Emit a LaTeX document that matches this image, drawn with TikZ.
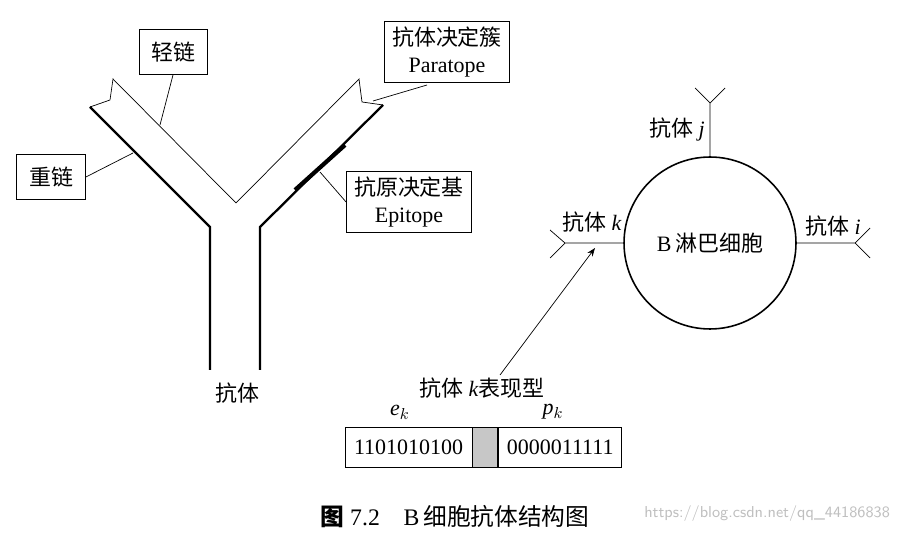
\documentclass[tikz,border=0pt]{standalone}
\usepackage{fontspec}
\setmainfont{Liberation Serif}
\newfontfamily\cjk{Noto Sans CJK SC}
\usetikzlibrary{arrows.meta}
\tikzset{
  >=Stealth,
  every node/.style={font=\fontsize{12.5}{15}\selectfont},
  lbl/.style={draw, line width=0.5pt, align=center, inner sep=3pt},
  thin/.style={line width=0.4pt},
  thick/.style={line width=1.3pt},
  bit/.style={draw, line width=0.5pt, minimum height=0.8cm, inner sep=0pt}
}
\begin{document}
\begin{tikzpicture}[x=0.02cm, y=-0.02cm]
  \useasboundingbox (0,0) rectangle (899,533);

  % Y-shaped antibody
  \coordinate (la) at (90,107);
  \coordinate (ln) at (110,100);
  \coordinate (lt) at (113,79);
  \coordinate (vv) at (236,203);
  \coordinate (rt) at (359,79);
  \coordinate (rn) at (362,102);
  \coordinate (ra) at (383,105);
  \coordinate (sl) at (210,227);
  \coordinate (sr) at (260,227);
  \draw[thin] (ln) -- (la) (ln) -- (lt) -- (vv) -- (rt) -- (rn) -- (ra);
  \draw[thick] (la) -- (sl) -- (210,370);
  \draw[thick] (ra) -- (sr) -- (260,370);
  \draw[line width=2.4pt] (295,190) -- (345,145);
  \node (ab) at (237,393) {\cjk 抗体};

  % labels of the Y
  \node[lbl, minimum width=1.36cm, minimum height=0.9cm] (light) at (173,52) {\cjk 轻链};
  \node[lbl, minimum width=1.38cm, minimum height=0.9cm] (heavy) at (51,177) {\cjk 重链};
  \node[lbl, minimum width=2.5cm] (para) at (447,52) {{\cjk 抗体决定簇}\\Paratope};
  \node[lbl, minimum width=2.5cm] (epi) at (409,202) {{\cjk 抗原决定基}\\Epitope};
  \coordinate (lightp) at (160,125);
  \coordinate (heavyp) at (133,153);
  \coordinate (parap) at (373,101);
  \coordinate (epip) at (320,172);
  \draw[thin] (light.south) -- (lightp);
  \draw[thin] (heavy.east) -- (heavyp);
  \draw[thin] (427,85) -- (parap);
  \draw[thin] (epi.west) -- (epip);

  % B cell with antibodies
  \node[draw, circle, line width=0.9pt, minimum size=3.44cm] (cell) at (710,243) {B\,{\cjk 淋巴细胞}};
  \coordinate (jf) at (710,103);
  \coordinate (kf) at (565,243);
  \coordinate (if) at (855,243);
  \draw[thin] (cell.north) -- (jf) -- (695,88) (jf) -- (725,88);
  \draw[thin] (cell.west) -- (kf) -- (550,230) (kf) -- (550,258);
  \draw[thin] (cell.east) -- (if) -- (870,228) (if) -- (870,258);
  \node (abj) at (677,130) {{\cjk 抗体} \textit{j}};
  \node (abk) at (592,222) {{\cjk 抗体} \textit{k}};
  \node (abi) at (833,226) {{\cjk 抗体} \textit{i}};

  % phenotype of antibody k
  \node (pheno) at (482,388) {{\cjk 抗体} \textit{k}{\cjk 表现型}};
  \node[bit, minimum width=2.54cm] (ek) at (408.5,447) {1101010100};
  \node[bit, minimum width=0.5cm, fill=black!22, anchor=west] (gap) at (ek.east) {};
  \node[bit, minimum width=2.46cm, anchor=west] (pk) at (gap.east) {0000011111};
  \node (ekl) at (400,412) {\textit{e}$_k$};
  \node (pkl) at (553,412) {\textit{p}$_k$};
  \coordinate (kp) at (595,248);
  \draw[->, thin] (500,375) -- (kp);

  % caption
  \node[font=\fontsize{13.5}{16}\selectfont] (cap) at (455,517) {{\cjk\bfseries 图} 7.2\quad B\,{\cjk 细胞抗体结构图}};
  \node[text=black!25, font=\fontsize{9}{11}\selectfont\sffamily, anchor=east, inner sep=1pt] (wm) at (892,514) {https://blog.csdn.net/qq\_44186838};
\end{tikzpicture}
\end{document}
